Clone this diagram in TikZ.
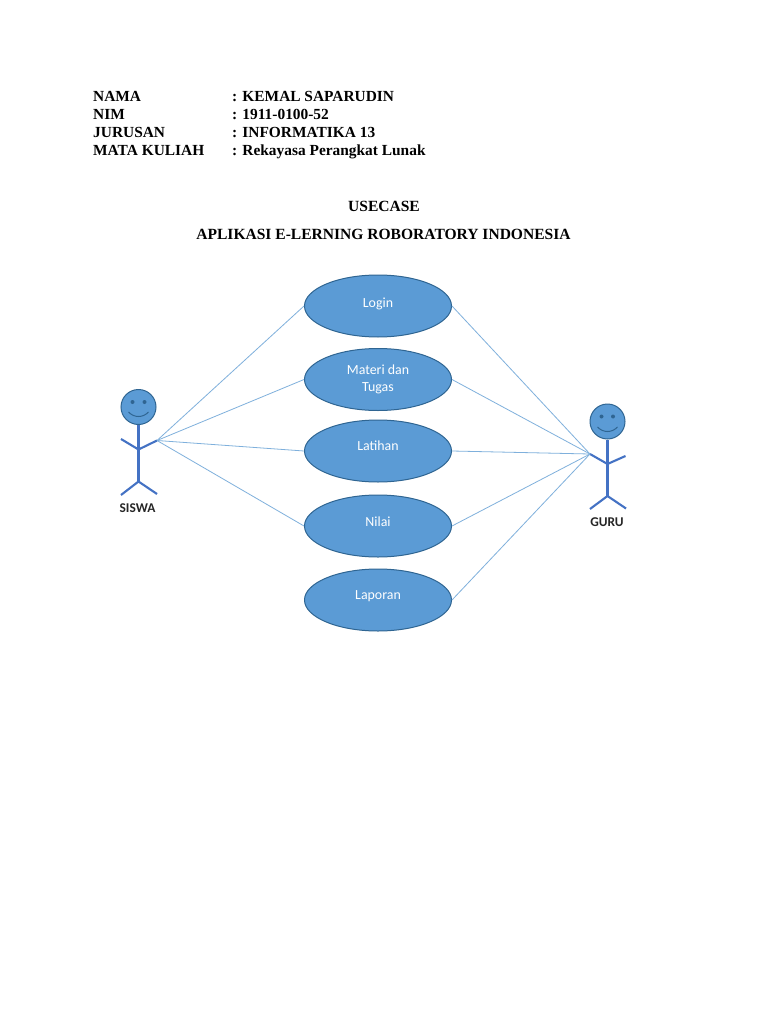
\documentclass[tikz,border=0pt]{standalone}
\usepackage{fontspec}
\setmainfont{Liberation Serif}
\newfontfamily\labelfont{Carlito}
\usetikzlibrary{shapes.geometric}
\definecolor{ucfill}{HTML}{5B9BD5}
\definecolor{ucedge}{HTML}{2F6592}
\definecolor{actorline}{HTML}{4472C4}
\definecolor{linkline}{HTML}{7FB0DC}
\tikzset{
  usecase/.style={ellipse,draw=ucedge,fill=ucfill,line width=1pt,minimum width=147pt,minimum height=62pt,inner sep=0pt,text=white,font=\labelfont\fontsize{13.9}{17}\selectfont,align=center},
  link/.style={draw=linkline,line width=0.8pt},
  limb/.style={draw=actorline,line width=2.1pt},
  head/.style={circle,draw=ucedge,fill=ucfill,line width=1pt,minimum size=35pt,inner sep=0pt},
  headtext/.style={anchor=base west,inner sep=0pt,font=\bfseries\fontsize{15.4}{18}\selectfont},
  title/.style={anchor=base,inner sep=0pt,font=\bfseries\fontsize{15.55}{18}\selectfont},
  actorname/.style={inner sep=0pt,font=\labelfont\bfseries\fontsize{13.4}{15}\selectfont,text=black!85}
}
\begin{document}
\begin{tikzpicture}[x=1pt,y=-1pt]
\useasboundingbox[fill=white] (0,0) rectangle (768,1024);
\node[headtext] (n1a) at (93,102) {NAMA};
\node[headtext] (n1b) at (232,102) {: KEMAL SAPARUDIN};
\node[headtext] (n2a) at (93,120) {NIM};
\node[headtext] (n2b) at (232,120) {: 1911-0100-52};
\node[headtext] (n3a) at (93,138) {JURUSAN};
\node[headtext] (n3b) at (232,138) {: INFORMATIKA 13};
\node[headtext] (n4a) at (93,156) {MATA KULIAH};
\node[headtext] (n4b) at (232,156) {: Rekayasa Perangkat Lunak};
\node[title] (t1) at (384,211.5) {USECASE};
\node[title] (t2) at (383.5,240) {APLIKASI E-LERNING ROBORATORY INDONESIA};

\node[usecase] (login) at (378,306) {\raisebox{7pt}{Login}};
\node[usecase] (materi) at (378,379.5) {Materi dan\\Tugas};
\node[usecase] (latihan) at (378,451) {\raisebox{10pt}{Latihan}};
\node[usecase] (nilai) at (378,526) {\raisebox{8pt}{Nilai}};
\node[usecase] (laporan) at (378,600) {\raisebox{9pt}{Laporan}};

% SISWA
\node[head] (h1) at (138.5,407) {};
\coordinate (s1) at (138.5,449.5);
\coordinate (s2) at (138.5,481.5);
\coordinate (s3) at (121,439);
\coordinate (s4) at (157,440.5);
\coordinate (s5) at (121,495);
\coordinate (s6) at (157,494);
\draw[limb] (h1) -- (s2);
\draw[limb] (s3) -- (s1) -- (s4);
\draw[limb] (s5) -- (s2) -- (s6);
\fill[ucedge] (132.5,402) circle (2) (144.5,402) circle (2);
\draw[ucedge,line width=1pt] (128.5,412) .. controls (134,418) and (143,418) .. (148.5,412);
\node[actorname] (siswa) at (137.5,508) {SISWA};

% GURU
\node[head] (h2) at (607.5,421.5) {};
\coordinate (g1) at (607.5,464);
\coordinate (g2) at (607.5,496);
\coordinate (g3) at (590,454);
\coordinate (g4) at (625.5,456);
\coordinate (g5) at (590,509);
\coordinate (g6) at (626,508.5);
\draw[limb] (h2) -- (g2);
\draw[limb] (g3) -- (g1) -- (g4);
\draw[limb] (g5) -- (g2) -- (g6);
\fill[ucedge] (601.5,416.5) circle (2) (613,416.5) circle (2);
\draw[ucedge,line width=1pt] (597.5,427) .. controls (603,433) and (612,433) .. (617.5,427);
\node[actorname] (guru) at (607,522) {GURU};

% links
\draw[link] (s4) -- (login.west);
\draw[link] (s4) -- (materi.west);
\draw[link] (s4) -- (latihan.west);
\draw[link] (s4) -- (nilai.west);
\draw[link] (g3) -- (login.east);
\draw[link] (g3) -- (materi.east);
\draw[link] (g3) -- (latihan.east);
\draw[link] (g3) -- (nilai.east);
\draw[link] (g3) -- (laporan.east);
\end{tikzpicture}
\end{document}
